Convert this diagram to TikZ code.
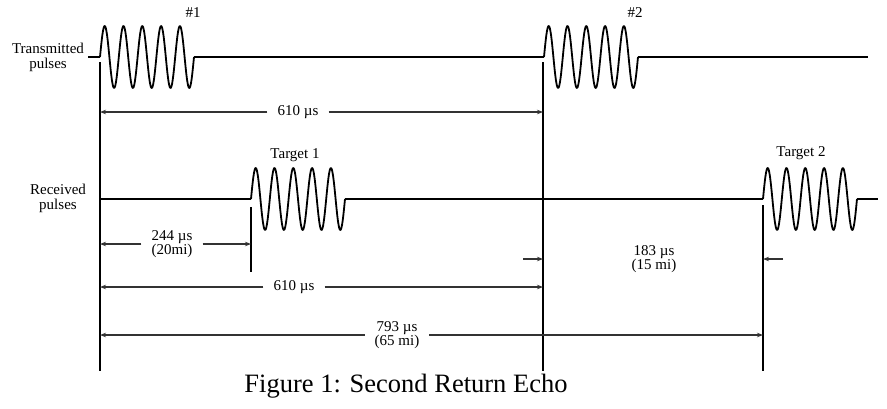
\documentclass[tikz,border=0pt]{standalone}
\usepackage{fontspec}
\setmainfont{Liberation Serif}
\usetikzlibrary{arrows.meta}
\newcommand\pulsewave[2]{%
  \draw[sig] plot[domain=0:94,samples=160] ({#1+\x},{#2-31*sin(19.149*\x)});}
\begin{document}
\begin{tikzpicture}[x=1pt,y=-1pt,
  lbl/.style={font=\fontsize{15}{15}\selectfont, inner sep=1pt, align=center},
  dimlbl/.style={font=\fontsize{15}{14}\selectfont, inner ysep=1pt, inner xsep=10pt, align=center},
  dimline/.style={line width=1.1pt, draw=black!80, -{Stealth[length=6pt,width=4.5pt]}},
  sig/.style={line width=1.8pt, line join=round},
  vline/.style={line width=1.1pt}]
\useasboundingbox (0,0) rectangle (887,408);
% key coordinates
\coordinate (t0) at (88,57);
\coordinate (p1s) at (100,57);
\coordinate (p1e) at (194,57);
\coordinate (p2s) at (544,57);
\coordinate (p2e) at (638,57);
\coordinate (tend) at (868,57);
\coordinate (r0) at (100,199);
\coordinate (e1s) at (251,199);
\coordinate (e1e) at (345,199);
\coordinate (e2s) at (763,199);
\coordinate (e2e) at (857,199);
\coordinate (rend) at (878,199);
\coordinate (v1t) at (100,62);
\coordinate (v1b) at (100,371);
\coordinate (v2t) at (543,62);
\coordinate (v2b) at (543,371);
\coordinate (v3t) at (251,207);
\coordinate (v3b) at (251,272);
\coordinate (v4t) at (763,205);
\coordinate (v4b) at (763,371);
% transmitted pulses
\draw[sig] (t0) -- (p1s);
\pulsewave{100}{57}
\draw[sig] (p1e) -- (p2s);
\pulsewave{544}{57}
\draw[sig] (p2e) -- (tend);
% received pulses
\draw[sig] (r0) -- (e1s);
\pulsewave{251}{199}
\draw[sig] (e1e) -- (e2s);
\pulsewave{763}{199}
\draw[sig] (e2e) -- (rend);
% vertical reference lines
\draw[vline] (v1t) -- (v1b);
\draw[vline] (v2t) -- (v2b);
\draw[vline] (v3t) -- (v3b);
\draw[vline] (v4t) -- (v4b);
% labels
\node[lbl] (tx) at (48,57) {Transmitted\\pulses};
\node[lbl] (rx) at (58,198) {Received\\pulses};
\node[lbl] (h1) at (193,13) {\#1};
\node[lbl] (h2) at (635,13) {\#2};
\node[lbl] (tg1) at (295,155) {Target 1};
\node[lbl] (tg2) at (801,153) {Target 2};
% dimensions
\node[dimlbl] (d610a) at (298,112) {610 µs};
\draw[dimline] (d610a.west) -- (d610a.west -| v1t);
\draw[dimline] (d610a.east) -- (d610a.east -| v2t);
\node[dimlbl] (d244) at (172,244) {244 µs\\(20mi)};
\draw[dimline] (d244.west) -- (d244.west -| v1t);
\draw[dimline] (d244.east) -- (d244.east -| v3t);
\node[dimlbl] (d183) at (654,259) {183 µs\\(15 mi)};
\coordinate (a183l) at (523,259);
\coordinate (a183r) at (783,259);
\draw[dimline] (a183l) -- (a183l -| v2t);
\draw[dimline] (a183r) -- (a183r -| v4t);
\node[dimlbl] (d610b) at (294,287) {610 µs};
\draw[dimline] (d610b.west) -- (d610b.west -| v1t);
\draw[dimline] (d610b.east) -- (d610b.east -| v2t);
\node[dimlbl] (d793) at (397,335) {793 µs\\(65 mi)};
\draw[dimline] (d793.west) -- (d793.west -| v1t);
\draw[dimline] (d793.east) -- (d793.east -| v4t);
% caption
\node[font=\fontsize{26.5}{28}\selectfont, inner sep=0pt] (cap) at (406,386) {Figure 1: Second Return Echo};
\end{tikzpicture}
\end{document}
